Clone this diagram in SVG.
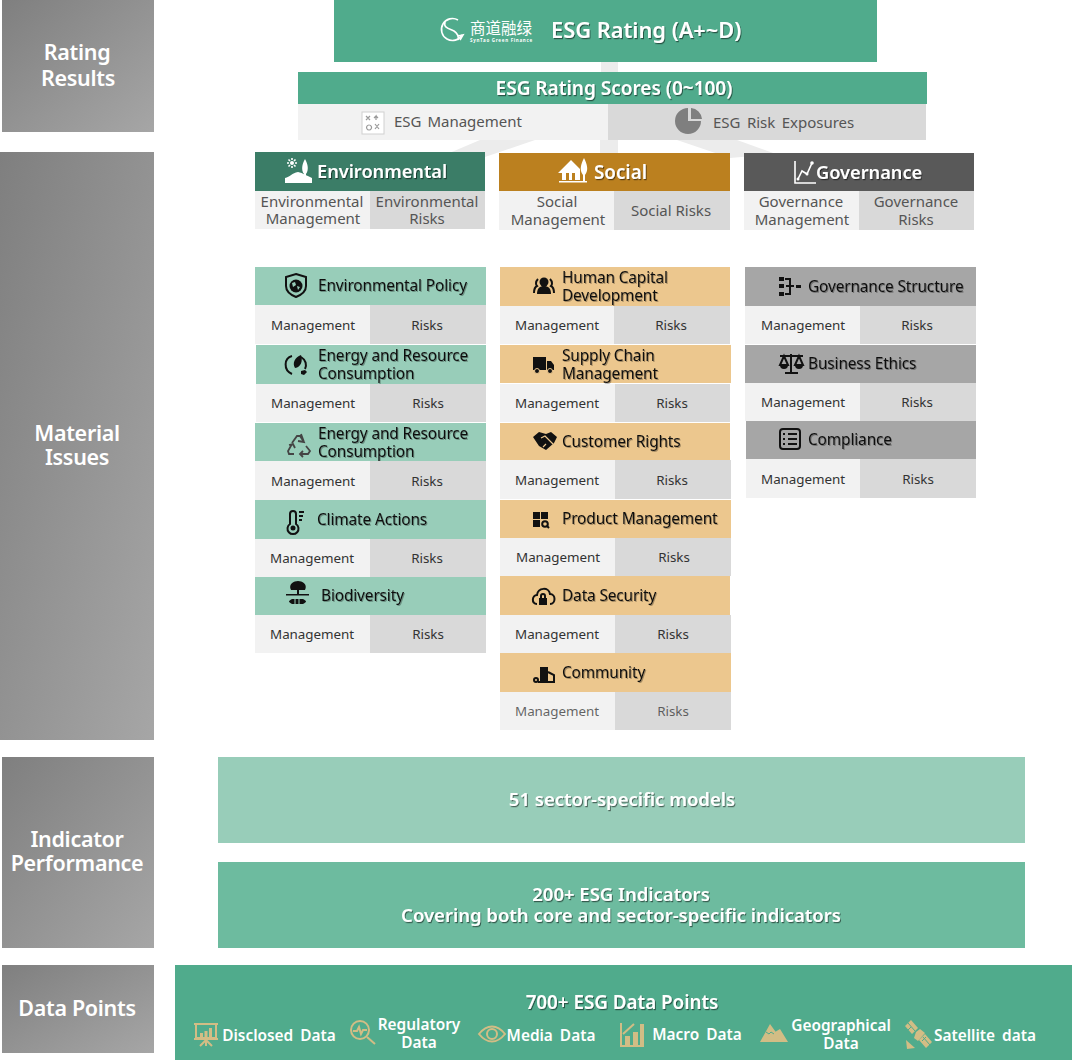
<svg xmlns="http://www.w3.org/2000/svg" width="1072" height="1062" viewBox="0 0 1072 1062">
<style>
text{font-family:"Noto Sans","Liberation Sans",sans-serif}
.w{fill:#fff;font-weight:600;filter:url(#sw)}
.lb{font-size:21.500px;text-anchor:middle;fill:#fff;font-weight:600;letter-spacing:-.3px}
.h{fill:#111;font-size:15.400px;filter:url(#sb);letter-spacing:-.12px}
.r{fill:#333;font-size:13.400px;text-anchor:middle;letter-spacing:-.05px}
.p{fill:#555;font-size:15px;text-anchor:middle}
.d{font-size:15.400px;text-anchor:middle;fill:#fff;font-weight:600}
.m{fill:#f2f2f2}.k{fill:#d9d9d9}.e{fill:#98cdb9}.s{fill:#ecc78e}.g{fill:#a6a6a6}
.ic{fill:#111}.il{fill:none;stroke:#111;stroke-width:2}
.t{fill:#d2bd85}.tl{fill:none;stroke:#d2bd85;stroke-width:2}
.wl{fill:none;stroke:#fff;stroke-width:1.600}
</style>
<defs>
<linearGradient id="lg" x1="0" y1="0" x2="1" y2="1"><stop offset="0" stop-color="#7f7f7f"/><stop offset="1" stop-color="#a6a6a6"/></linearGradient>
<filter id="sw" x="-10%" y="-30%" width="120%" height="170%"><feDropShadow dx="1" dy="1.200" stdDeviation=".7" flood-color="#000" flood-opacity=".5"/></filter>
<filter id="sb" x="-10%" y="-30%" width="120%" height="170%"><feDropShadow dx="1" dy="1" stdDeviation=".7" flood-color="#000" flood-opacity=".3"/></filter>
</defs>

<g id="connectors" fill="#ececec">
<rect x="601" y="62" width="17" height="10"/>
<rect x="600" y="140" width="18" height="14"/>
<polygon points="480,140 535,140 485,157 440,157"/>
<polygon points="677,140 737,140 776,154 730,158"/>
</g>

<g id="band-rating"><rect x="2" y="0" width="152" height="132" fill="url(#lg)"/><text class="lb" x="77" y="60">Rating</text><text class="lb" x="78" y="86">Results</text></g>
<g id="band-material"><rect x="0" y="152" width="154" height="588" fill="url(#lg)"/><text class="lb" x="77" y="441">Material</text><text class="lb" x="77" y="465">Issues</text></g>
<g id="band-indicator"><rect x="2" y="757" width="152" height="191" fill="url(#lg)"/><text class="lb" x="77" y="847">Indicator</text><text class="lb" x="77" y="871">Performance</text></g>
<g id="band-data"><rect x="2" y="965" width="152" height="88" fill="url(#lg)"/><text class="lb" x="77" y="1016">Data Points</text></g>

<g id="rating"><rect x="334" y="0" width="543" height="62" fill="#50ab8c"/>
<path class="wl" stroke-width="1.800" d="M458 20a11 11 0 1 0 4 15"/><path class="wl" stroke-width="1.800" d="M445 22c-2 6 5 7 9 9 3 2 5 5 4 9M458 36l5-1-3 5"/>
<text x="470" y="34" fill="#fff" font-size="15.500" style="font-family:'Noto Sans CJK SC',sans-serif">商道融绿</text>
<text x="470" y="42" fill="#fff" font-size="4.500" font-weight="700" letter-spacing=".7">SynTao Green Finance</text>
<text class="w" x="551" y="38" font-size="21.800">ESG Rating (A+~D)</text></g>

<g id="scores"><rect x="298" y="72" width="629" height="32" fill="#50ab8c"/><text class="w" x="614" y="95" font-size="19" text-anchor="middle">ESG Rating Scores (0~100)</text>
<rect class="m" x="298" y="104" width="310" height="36"/><rect class="k" x="608" y="104" width="318" height="36"/>
<rect x="362" y="112" width="22" height="22" fill="#fff" stroke="#d0d0d0"/><path fill="none" stroke="#999" stroke-width="1.200" d="M366 116l4 4M370 116l-4 4M376 120v-4l-2 2M376 116l2 2M369 125a2.500 2.500 0 1 0 .1 0M375 124l4 5M379 124l-4 5"/>
<text x="394" y="127" fill="#555" font-size="15" word-spacing="2">ESG Management</text>
<path fill="#7f7f7f" d="M688 108a13 13 0 1 0 13 13h-13zM691 108v11h11a12 12 0 0 0-11-11z"/>
<text x="713" y="128" fill="#555" font-size="15" word-spacing="2.500">ESG Risk Exposures</text></g>

<g id="environmental"><rect x="255" y="152" width="230" height="39" fill="#3b7d67"/>
<path fill="#fff" d="M285 183v-5c5-1 7-5 13-6 5 1 9 4 14 6v5z"/><path fill="#fff" d="M304 174c-3-4-2-10 1-15 3 5 4 11 1 15v4h-2z"/><circle cx="292" cy="163" r="2" fill="#fff"/><path class="wl" stroke-width=".9" d="M292 158v2M292 166v2M287 163h2M295 163h2M288.500 159.500l1.500 1.500M294 165l1.500 1.500M288.500 166.500l1.500-1.500M294 161l1.500-1.500"/>
<text class="w" x="317" y="178" font-size="18.200">Environmental</text>
<rect class="m" x="255" y="191" width="115" height="38"/><rect class="k" x="370" y="191" width="115" height="38"/>
<text class="p" x="312" y="207">Environmental</text><text class="p" x="313" y="224">Management</text>
<text class="p" x="427" y="207">Environmental</text><text class="p" x="427" y="224">Risks</text></g>

<g id="social"><rect x="499" y="153" width="231" height="38" fill="#bb801f"/>
<path fill="#fff" d="M558 173l13-13 9 9v11h-18v-7z"/><path fill="#bb801f" d="M566 173h3v7h-3zM572 173h3v7h-3z"/><path fill="#fff" d="M583 175c-4-5-2-11 1-17 3 6 5 12 1 17v6h-2zM559 181h28v1.500h-28z"/>
<text class="w" x="594" y="179" font-size="18.800">Social</text>
<rect class="m" x="499" y="191" width="115" height="39"/><rect class="k" x="614" y="191" width="116" height="39"/>
<text class="p" x="557" y="207">Social</text><text class="p" x="558" y="225">Management</text><text class="p" x="671" y="216">Social Risks</text></g>

<g id="governance"><rect x="744" y="153" width="230" height="38" fill="#595959"/>
<path class="wl" d="M795 161v22h21"/><path class="wl" d="M798 179l4-8 5 3 5-11"/><circle cx="798" cy="179" r="1.500" fill="#fff"/><circle cx="807" cy="174" r="1.500" fill="#fff"/><circle cx="812" cy="163" r="1.800" fill="#fff"/>
<text class="w" x="816" y="179" font-size="18.200">Governance</text>
<rect class="m" x="744" y="191" width="115" height="39"/><rect class="k" x="859" y="191" width="115" height="39"/>
<text class="p" x="801" y="207">Governance</text><text class="p" x="802" y="225">Management</text>
<text class="p" x="916" y="207">Governance</text><text class="p" x="916" y="225">Risks</text></g>

<g id="env-policy"><rect class="e" x="255" y="267" width="231" height="38"/><path class="il" stroke-width="1.500" d="M296 274l10 3v9c0 5-5 9-10 11-5-2-10-6-10-11v-9z"/><circle class="ic" cx="296" cy="286" r="6.500"/><path fill="#98cdb9" d="M292 283l3-1 1 3-3 2zM297 286l3 1-2 3z"/>
<text class="h" x="318" y="291">Environmental Policy</text>
<rect class="m" x="255" y="305" width="115" height="39"/><rect class="k" x="370" y="305" width="116" height="39"/><text class="r" x="313" y="330">Management</text><text class="r" x="427" y="330">Risks</text></g>
<g id="env-energy"><rect class="e" x="256" y="345" width="230" height="39"/><path class="il" d="M292 374c-9-4-8-16 0-18M301 357c5 3 6 8 4 12"/><path class="ic" d="M295 368c-3-5 0-11 6-13 2 6 0 12-6 13zM301 371l4-1 2 2-3 3-3-1z"/>
<text class="h" x="318" y="361">Energy and Resource</text><text class="h" x="318" y="379">Consumption</text>
<rect class="m" x="256" y="384" width="114" height="38"/><rect class="k" x="370" y="384" width="116" height="38"/><text class="r" x="313" y="408">Management</text><text class="r" x="428" y="408">Risks</text></g>
<g id="env-recycle"><rect class="e" x="255" y="423" width="231" height="38"/><path fill="none" stroke="#444" stroke-width="1.800" d="M292 443l5-7h3l4 6M301 434l3 8-6-1M306 446l4 5-2 3h-7M303 451l-3 3 3 3M294 454h-5l-1-3 4-7M289 445l4-1 2 4"/>
<text class="h" x="318" y="439">Energy and Resource</text><text class="h" x="318" y="457">Consumption</text>
<rect class="m" x="255" y="461" width="115" height="39"/><rect class="k" x="370" y="461" width="116" height="39"/><text class="r" x="313" y="486">Management</text><text class="r" x="427" y="486">Risks</text></g>
<g id="env-climate"><rect class="e" x="255" y="500" width="231" height="39"/><path class="il" d="M290 514a3 3 0 0 1 6 0v10a5.500 5.500 0 1 1-6 0zM299 512h5M299 516h4M299 520h3"/><circle class="ic" cx="293" cy="528" r="2.500"/>
<text class="h" x="317" y="525">Climate Actions</text>
<rect class="m" x="255" y="539" width="115" height="38"/><rect class="k" x="370" y="539" width="116" height="38"/><text class="r" x="312" y="563">Management</text><text class="r" x="427" y="563">Risks</text></g>
<g id="env-bio"><rect class="e" x="255" y="577" width="231" height="38"/><path class="ic" d="M291 590c-3-6 3-9 7-9s10 3 7 9h-6v4h-2v-4zM286 594h23v1.500h-23zM292 599h11c2 1 3 2 3 2.500s-1 1.500-3 2.500h-11c-2-1-3-2-3-2.500s1-1.500 3-2.500z"/><path stroke="#98cdb9" d="M295 599v5M299 599v5"/>
<text class="h" x="321" y="601">Biodiversity</text>
<rect class="m" x="255" y="615" width="115" height="38"/><rect class="k" x="370" y="615" width="116" height="38"/><text class="r" x="312" y="639">Management</text><text class="r" x="428" y="639">Risks</text></g>

<g id="soc-human"><rect class="s" x="500" y="267" width="230" height="39"/><circle class="ic" cx="544" cy="282" r="4.500"/><path class="ic" d="M537 294c0-6 3-8 7-8s7 2 7 8z"/><path class="il" stroke-width="1.400" d="M538 279c-3 3-2 6-1 7-2 1-3 4-3 7M550 279c3 3 2 6 1 7 2 1 3 4 3 7"/>
<text class="h" x="562" y="283">Human Capital</text><text class="h" x="562" y="301">Development</text>
<rect class="m" x="500" y="306" width="114" height="38"/><rect class="k" x="614" y="306" width="116" height="38"/><text class="r" x="557" y="330">Management</text><text class="r" x="671" y="330">Risks</text></g>
<g id="soc-supply"><rect class="s" x="500" y="345" width="231" height="38"/><path class="ic" d="M533 357h13v13h-13zM547 361h4l3 4v5h-7z"/><circle cx="537" cy="371" r="2.500" fill="#111" stroke="#ecc78e"/><circle cx="550" cy="371" r="2.500" fill="#111" stroke="#ecc78e"/>
<text class="h" x="562" y="361">Supply Chain</text><text class="h" x="562" y="379">Management</text>
<rect class="m" x="500" y="384" width="115" height="38"/><rect class="k" x="615" y="384" width="115" height="38"/><text class="r" x="557" y="408">Management</text><text class="r" x="672" y="408">Risks</text></g>
<g id="soc-customer"><rect class="s" x="500" y="423" width="230" height="37"/><path class="ic" d="M533 437l6-5 7 2 5-2 6 5-3 6-8 7-7-4z"/><path fill="none" stroke="#ecc78e" stroke-width="1.200" d="M541 438l4-2 8 8M543 447l3-3"/>
<text class="h" x="562" y="447">Customer Rights</text>
<rect class="m" x="500" y="460" width="115" height="39"/><rect class="k" x="615" y="460" width="116" height="39"/><text class="r" x="557" y="485">Management</text><text class="r" x="672" y="485">Risks</text></g>
<g id="soc-product"><rect class="s" x="500" y="500" width="231" height="38"/><path class="ic" d="M533 512h7v7h-7zM541 512h7v7h-7zM533 520h7v7h-7z"/><circle class="il" stroke-width="1.400" cx="545" cy="524" r="2.800"/><path class="il" stroke-width="1.400" d="M547 526l2 2"/>
<text class="h" x="562" y="524">Product Management</text>
<rect class="m" x="500" y="538" width="115" height="38"/><rect class="k" x="615" y="538" width="116" height="38"/><text class="r" x="558" y="562">Management</text><text class="r" x="674" y="562">Risks</text></g>
<g id="soc-data"><rect class="s" x="500" y="576" width="230" height="39"/><path class="il" d="M537 604c-6 0-5-9 0-9 1-8 12-8 13-1 6 0 6 10 0 10"/><rect class="ic" x="539" y="598" width="8" height="7"/><path class="il" stroke-width="1.400" d="M541 598v-2a2 2 0 0 1 4 0v2"/>
<text class="h" x="562" y="601">Data Security</text>
<rect class="m" x="500" y="615" width="115" height="38"/><rect class="k" x="615" y="615" width="116" height="38"/><text class="r" x="557" y="639">Management</text><text class="r" x="673" y="639">Risks</text></g>
<g id="soc-community"><rect class="s" x="500" y="653" width="231" height="39"/><path class="ic" d="M540 667h8v15h-8z"/><path class="il" stroke-width="1.300" d="M548 672l6 3v7h-6M538 682h16"/><circle class="il" stroke-width="1.300" cx="536" cy="680" r="2"/>
<text class="h" x="562" y="678">Community</text>
<rect class="m" x="500" y="692" width="115" height="38"/><rect class="k" x="615" y="692" width="116" height="38"/><text class="r" x="557" y="716" fill-opacity=".75">Management</text><text class="r" x="673" y="716" fill-opacity=".75">Risks</text></g>

<g id="gov-structure"><rect class="g" x="745" y="267" width="231" height="39"/><path class="ic" d="M779 277h5v4h-5zM779 284h5v4h-5zM779 292h5v4h-5zM796 285h5v3h-5z"/><path class="il" stroke-width="1.400" d="M785 279h5v15h-5M786 286h8"/>
<text class="h" x="808" y="292">Governance Structure</text>
<rect class="m" x="745" y="306" width="115" height="38"/><rect class="k" x="860" y="306" width="116" height="38"/><text class="r" x="803" y="330">Management</text><text class="r" x="917" y="330">Risks</text></g>
<g id="gov-ethics"><rect class="g" x="745" y="345" width="231" height="38"/><path class="il" stroke-width="1.600" d="M780 356h23M791 354v18M785 373h13M784 356l-4 9h8zM799 356l-4 9h8z"/><path class="ic" d="M780 365h8a4 4 0 0 1-8 0zM795 365h8a4 4 0 0 1-8 0z"/>
<text class="h" x="808" y="369">Business Ethics</text>
<rect class="m" x="745" y="383" width="115" height="38"/><rect class="k" x="860" y="383" width="116" height="38"/><text class="r" x="803" y="407">Management</text><text class="r" x="917" y="407">Risks</text></g>
<g id="gov-compliance"><rect class="g" x="746" y="421" width="230" height="38"/><rect class="il" x="780" y="429" width="20" height="20" rx="3"/><path class="il" stroke-width="1.600" d="M783 434h2M788 434h9M783 439h2M788 439h9M783 444h2M788 444h9"/>
<text class="h" x="808" y="445">Compliance</text>
<rect class="m" x="746" y="459" width="114" height="39"/><rect class="k" x="860" y="459" width="116" height="39"/><text class="r" x="803" y="484">Management</text><text class="r" x="918" y="484">Risks</text></g>

<g id="models"><rect x="218" y="757" width="807" height="86" fill="#98cdb9"/><text class="w" x="622" y="806" font-size="18.500" text-anchor="middle">51 sector-specific models</text></g>
<g id="indicators"><rect x="218" y="862" width="807" height="86" fill="#6dbb9f"/><text class="w" x="621" y="901" font-size="18.500" text-anchor="middle">200+ ESG Indicators</text><text class="w" x="621" y="922" font-size="18.500" text-anchor="middle">Covering both core and sector-specific indicators</text></g>

<g id="datapoints"><rect x="175" y="965" width="897" height="95" fill="#50ab8c"/>
<text class="w" x="622" y="1009" font-size="18.800" text-anchor="middle">700+ ESG Data Points</text>
<path class="tl" d="M194 1024h24M196 1024v14h20v-14M194 1039h24M206 1039v7M206 1040l-6 6M206 1040l6 6"/><path class="t" d="M200 1033h3v4h-3zM204.500 1031h3v6h-3zM209 1028h3v9h-3z"/>
<text class="d" x="279" y="1041" word-spacing="3">Disclosed Data</text>
<circle class="tl" cx="360" cy="1030" r="9"/><path class="tl" stroke-width="1.200" d="M353 1031h4l2-4 2 7 2-4h4"/><path class="tl" stroke-width="3" d="M367 1037l8 7"/>
<text class="d" x="419" y="1030">Regulatory</text><text class="d" x="419" y="1048">Data</text>
<path class="tl" d="M479 1034c8-10 18-10 26 0-8 10-18 10-26 0z"/><circle class="tl" stroke-width="2.500" cx="492" cy="1034" r="5"/>
<text class="d" x="551" y="1041" word-spacing="3">Media Data</text>
<path class="tl" d="M621 1023v23h23"/><path class="t" d="M625 1036h5v9h-5zM633 1032h5v13h-5zM640 1024h4v21h-4z"/><path class="tl" stroke-width="1.200" d="M623 1034l11-10"/>
<text class="d" x="697" y="1040" word-spacing="3">Macro Data</text>
<path class="t" d="M760 1042l10-18 13 18zM775 1032l5-3 8 13h-6z"/><path fill="none" stroke="#50ab8c" stroke-width="1" d="M766 1032l3 2 2-2 3 2"/>
<text class="d" x="841" y="1031">Geographical</text><text class="d" x="841" y="1049">Data</text>
<path class="t" d="M911 1020l7 8-6 6-7-8zM925 1034l7 8-6 6-7-8zM916 1032l4-3 5 4-7 8-4-3zM906 1040l9 8-8 1z"/><path fill="none" stroke="#50ab8c" d="M908 1023l7 8M911 1027l-3 3M926 1037l-4 4M923 1037l7 8"/>
<text class="d" x="985" y="1041" word-spacing="3">Satellite data</text></g>
</svg>
